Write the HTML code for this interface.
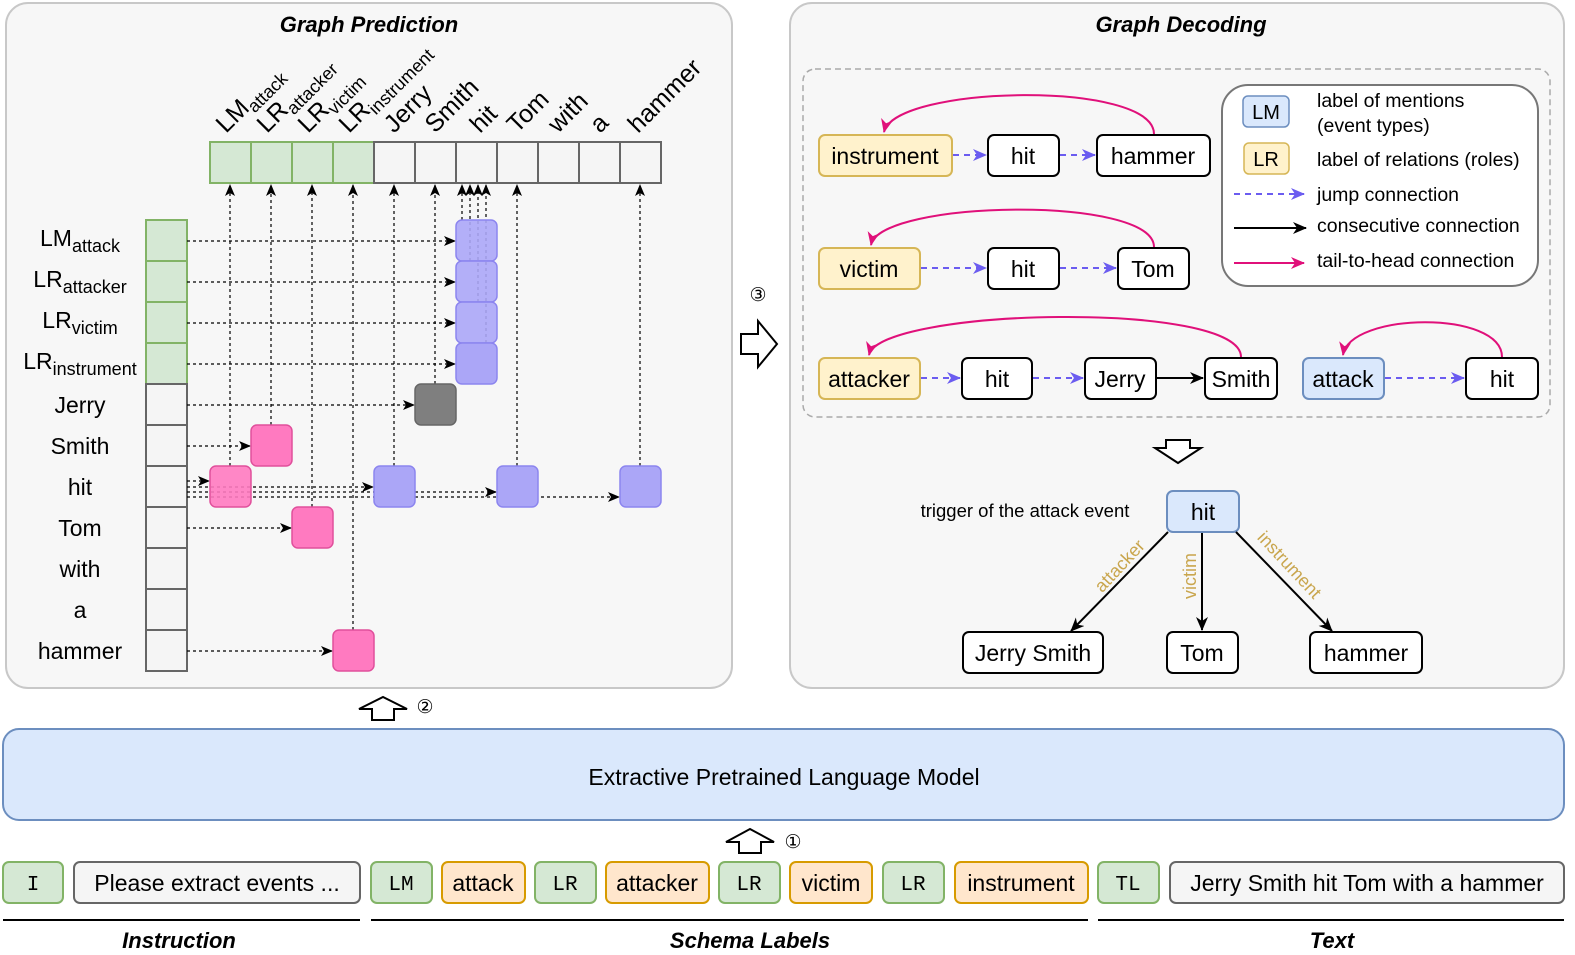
<!DOCTYPE html>
<html><head><meta charset="utf-8"><style>
html,body{margin:0;padding:0;background:#fff;}
svg{display:block;font-family:"Liberation Sans",sans-serif;}
</style></head><body>
<svg width="1575" height="955" viewBox="0 0 1575 955" xmlns="http://www.w3.org/2000/svg">
<defs>
<marker id="ab" markerWidth="12" markerHeight="10" refX="11" refY="5" orient="auto" markerUnits="userSpaceOnUse"><path d="M0,0 L12,5 L0,10 L3,5z" fill="#000"/></marker>
<marker id="ap" markerWidth="14" markerHeight="12" refX="13" refY="6" orient="auto" markerUnits="userSpaceOnUse"><path d="M0,0 L14,6 L0,12 L4,6z" fill="#6b5cf0"/></marker>
<marker id="am" markerWidth="14" markerHeight="12" refX="13" refY="6" orient="auto" markerUnits="userSpaceOnUse"><path d="M0,0 L14,6 L0,12 L4,6z" fill="#e0107a"/></marker>
<marker id="ak" markerWidth="14" markerHeight="12" refX="13" refY="6" orient="auto" markerUnits="userSpaceOnUse"><path d="M0,0 L14,6 L0,12 L4,6z" fill="#000"/></marker>
</defs>

<rect x="6" y="3" width="726" height="685" rx="22" fill="#f7f7f7" stroke="#c8c8c8" stroke-width="2"/>
<rect x="790" y="3" width="774" height="685" rx="22" fill="#f7f7f7" stroke="#c8c8c8" stroke-width="2"/>
<text x="369" y="32" font-size="22" font-weight="bold" font-style="italic" text-anchor="middle">Graph Prediction</text>
<text x="1181" y="32" font-size="22" font-weight="bold" font-style="italic" text-anchor="middle">Graph Decoding</text>

<g stroke-width="2">
<rect x="210" y="142" width="41" height="41" fill="#d5e8d4" stroke="#82b366"/>
<rect x="251" y="142" width="41" height="41" fill="#d5e8d4" stroke="#82b366"/>
<rect x="292" y="142" width="41" height="41" fill="#d5e8d4" stroke="#82b366"/>
<rect x="333" y="142" width="41" height="41" fill="#d5e8d4" stroke="#82b366"/>
<rect x="374" y="142" width="41" height="41" fill="#f5f5f5" stroke="#666"/>
<rect x="415" y="142" width="41" height="41" fill="#f5f5f5" stroke="#666"/>
<rect x="456" y="142" width="41" height="41" fill="#f5f5f5" stroke="#666"/>
<rect x="497" y="142" width="41" height="41" fill="#f5f5f5" stroke="#666"/>
<rect x="538" y="142" width="41" height="41" fill="#f5f5f5" stroke="#666"/>
<rect x="579" y="142" width="41" height="41" fill="#f5f5f5" stroke="#666"/>
<rect x="620" y="142" width="41" height="41" fill="#f5f5f5" stroke="#666"/>
<rect x="146" y="220" width="41" height="41" fill="#d5e8d4" stroke="#82b366"/>
<rect x="146" y="261" width="41" height="41" fill="#d5e8d4" stroke="#82b366"/>
<rect x="146" y="302" width="41" height="41" fill="#d5e8d4" stroke="#82b366"/>
<rect x="146" y="343" width="41" height="41" fill="#d5e8d4" stroke="#82b366"/>
<rect x="146" y="384" width="41" height="41" fill="#f5f5f5" stroke="#666"/>
<rect x="146" y="425" width="41" height="41" fill="#f5f5f5" stroke="#666"/>
<rect x="146" y="466" width="41" height="41" fill="#f5f5f5" stroke="#666"/>
<rect x="146" y="507" width="41" height="41" fill="#f5f5f5" stroke="#666"/>
<rect x="146" y="548" width="41" height="41" fill="#f5f5f5" stroke="#666"/>
<rect x="146" y="589" width="41" height="41" fill="#f5f5f5" stroke="#666"/>
<rect x="146" y="630" width="41" height="41" fill="#f5f5f5" stroke="#666"/>
</g>

<g font-size="25" fill="#000">
<text transform="translate(226,134) rotate(-45)">LM<tspan font-size="18" dy="6">attack</tspan></text>
<text transform="translate(267,134) rotate(-45)">LR<tspan font-size="18" dy="6">attacker</tspan></text>
<text transform="translate(308,134) rotate(-45)">LR<tspan font-size="18" dy="6">victim</tspan></text>
<text transform="translate(349,134) rotate(-45)">LR<tspan font-size="18" dy="6">instrument</tspan></text>
<text transform="translate(394,134) rotate(-45)">Jerry</text>
<text transform="translate(435,134) rotate(-45)">Smith</text>
<text transform="translate(480,134) rotate(-45)">hit</text>
<text transform="translate(517,134) rotate(-45)">Tom</text>
<text transform="translate(558,134) rotate(-45)">with</text>
<text transform="translate(600,134) rotate(-45)">a</text>
<text transform="translate(638,134) rotate(-45)">hammer</text>
</g>
<g font-size="23" text-anchor="middle">
<text x="80" y="246">LM<tspan font-size="18" dy="6">attack</tspan></text>
<text x="80" y="287">LR<tspan font-size="18" dy="6">attacker</tspan></text>
<text x="80" y="328">LR<tspan font-size="18" dy="6">victim</tspan></text>
<text x="80" y="369">LR<tspan font-size="18" dy="6">instrument</tspan></text>
<text x="80" y="413">Jerry</text>
<text x="80" y="454">Smith</text>
<text x="80" y="495">hit</text>
<text x="80" y="536">Tom</text>
<text x="80" y="577">with</text>
<text x="80" y="618">a</text>
<text x="80" y="659">hammer</text>
</g>

<g stroke="#000" stroke-width="1.2" stroke-dasharray="3,3" fill="none" marker-end="url(#ab)">
<line x1="230" y1="466" x2="230" y2="185"/>
<line x1="271" y1="425" x2="271" y2="185"/>
<line x1="312" y1="507" x2="312" y2="185"/>
<line x1="353" y1="630" x2="353" y2="185"/>
<line x1="394" y1="466" x2="394" y2="185"/>
<line x1="435" y1="384" x2="435" y2="185"/>
<line x1="462" y1="220" x2="462" y2="185"/>
<line x1="470" y1="261" x2="470" y2="185"/>
<line x1="478" y1="302" x2="478" y2="185"/>
<line x1="486" y1="343" x2="486" y2="185"/>
<line x1="517" y1="466" x2="517" y2="185"/>
<line x1="640" y1="466" x2="640" y2="185"/>
<line x1="187" y1="241" x2="455" y2="241"/>
<line x1="187" y1="282" x2="455" y2="282"/>
<line x1="187" y1="323" x2="455" y2="323"/>
<line x1="187" y1="364" x2="455" y2="364"/>
<line x1="187" y1="405" x2="414" y2="405"/>
<line x1="187" y1="446" x2="250" y2="446"/>
<line x1="187" y1="481" x2="209" y2="481"/>
<line x1="187" y1="487" x2="373" y2="487"/>
<line x1="187" y1="492" x2="496" y2="492"/>
<line x1="187" y1="497" x2="619" y2="497"/>
<line x1="187" y1="528" x2="291" y2="528"/>
<line x1="187" y1="651" x2="332" y2="651"/>
</g>

<g stroke-width="1.5">
<rect x="456" y="220" width="41" height="41" rx="6" fill="#aba6f7" fill-opacity="0.9" stroke="#8c85ef"/>
<rect x="456" y="261" width="41" height="41" rx="6" fill="#aba6f7" fill-opacity="0.9" stroke="#8c85ef"/>
<rect x="456" y="302" width="41" height="41" rx="6" fill="#aba6f7" fill-opacity="0.9" stroke="#8c85ef"/>
<rect x="456" y="343" width="41" height="41" rx="6" fill="#aba6f7" stroke="#8c85ef"/>
<rect x="415" y="384" width="41" height="41" rx="6" fill="#7f7f7f" stroke="#666"/>
<rect x="251" y="425" width="41" height="41" rx="6" fill="#ff7ac0" stroke="#e0509c"/>
<rect x="210" y="466" width="41" height="41" rx="6" fill="#ff7ac0" fill-opacity="0.9" stroke="#e0509c"/>
<rect x="292" y="507" width="41" height="41" rx="6" fill="#ff7ac0" stroke="#e0509c"/>
<rect x="333" y="630" width="41" height="41" rx="6" fill="#ff7ac0" stroke="#e0509c"/>
<rect x="374" y="466" width="41" height="41" rx="6" fill="#aba6f7" stroke="#8c85ef"/>
<rect x="497" y="466" width="41" height="41" rx="6" fill="#aba6f7" stroke="#8c85ef"/>
<rect x="620" y="466" width="41" height="41" rx="6" fill="#aba6f7" stroke="#8c85ef"/>
</g>

<path d="M741,334 L758,334 L758,321 L777,344 L758,367 L758,354 L741,354 Z" fill="#fff" stroke="#000" stroke-width="2"/>
<text x="758" y="301" font-size="19" text-anchor="middle">③</text>

<rect x="803" y="69" width="747" height="348" rx="12" fill="none" stroke="#aaa" stroke-width="1.5" stroke-dasharray="6,4"/>

<rect x="1222" y="85" width="316" height="201" rx="26" fill="#fff" stroke="#777" stroke-width="2"/>
<rect x="1243" y="96" width="46" height="31" rx="5" fill="#dae8fc" stroke="#6c8ebf" stroke-width="1.5"/>
<text x="1266" y="119" font-size="20" text-anchor="middle">LM</text>
<rect x="1244" y="143" width="45" height="31" rx="5" fill="#fff2cc" stroke="#d6b656" stroke-width="1.5"/>
<text x="1266" y="166" font-size="20" text-anchor="middle">LR</text>
<g font-size="19.5">
<text x="1317" y="107">label of mentions</text>
<text x="1317" y="132">(event types)</text>
<text x="1317" y="166">label of relations (roles)</text>
<text x="1317" y="201">jump connection</text>
<text x="1317" y="232">consecutive connection</text>
<text x="1317" y="267">tail-to-head connection</text>
</g>
<line x1="1234" y1="194" x2="1304" y2="194" stroke="#6b5cf0" stroke-width="2" stroke-dasharray="6,5" marker-end="url(#ap)"/>
<line x1="1234" y1="228" x2="1306" y2="228" stroke="#000" stroke-width="2" marker-end="url(#ak)"/>
<line x1="1234" y1="263" x2="1304" y2="263" stroke="#e0107a" stroke-width="2" marker-end="url(#am)"/>

<g stroke-width="2">
<rect x="819" y="135" width="133" height="41" rx="6" fill="#fff2cc" stroke="#d6b656"/>
<rect x="988" y="135" width="71" height="41" rx="6" fill="#fff" stroke="#000"/>
<rect x="1097" y="135" width="113" height="41" rx="6" fill="#fff" stroke="#000"/>
<rect x="819" y="248" width="101" height="41" rx="6" fill="#fff2cc" stroke="#d6b656"/>
<rect x="988" y="248" width="71" height="41" rx="6" fill="#fff" stroke="#000"/>
<rect x="1118" y="248" width="71" height="41" rx="6" fill="#fff" stroke="#000"/>
<rect x="819" y="358" width="101" height="41" rx="6" fill="#fff2cc" stroke="#d6b656"/>
<rect x="962" y="358" width="70" height="41" rx="6" fill="#fff" stroke="#000"/>
<rect x="1085" y="358" width="71" height="41" rx="6" fill="#fff" stroke="#000"/>
<rect x="1205" y="358" width="72" height="41" rx="6" fill="#fff" stroke="#000"/>
<rect x="1303" y="358" width="81" height="41" rx="6" fill="#dae8fc" stroke="#6c8ebf"/>
<rect x="1466" y="358" width="72" height="41" rx="6" fill="#fff" stroke="#000"/>
</g>
<g font-size="23" text-anchor="middle">
<text x="885" y="164">instrument</text>
<text x="1023" y="164">hit</text>
<text x="1153" y="164">hammer</text>
<text x="869" y="277">victim</text>
<text x="1023" y="277">hit</text>
<text x="1153" y="277">Tom</text>
<text x="869" y="387">attacker</text>
<text x="997" y="387">hit</text>
<text x="1120" y="387">Jerry</text>
<text x="1241" y="387">Smith</text>
<text x="1343" y="387">attack</text>
<text x="1502" y="387">hit</text>
</g>
<g stroke="#6b5cf0" stroke-width="2" stroke-dasharray="6,5" marker-end="url(#ap)">
<line x1="953" y1="155" x2="986" y2="155"/>
<line x1="1060" y1="155" x2="1095" y2="155"/>
<line x1="921" y1="268" x2="986" y2="268"/>
<line x1="1060" y1="268" x2="1116" y2="268"/>
<line x1="921" y1="378" x2="960" y2="378"/>
<line x1="1033" y1="378" x2="1083" y2="378"/>
<line x1="1385" y1="378" x2="1464" y2="378"/>
</g>
<line x1="1157" y1="378" x2="1203" y2="378" stroke="#000" stroke-width="2" marker-end="url(#ak)"/>
<g stroke="#e0107a" stroke-width="2" fill="none" marker-end="url(#am)">
<path d="M1154,134 C1154,80 895,85 884,132"/>
<path d="M1154,247 C1154,195 880,200 871,245"/>
<path d="M1241,357 C1241,300 880,308 869,355"/>
<path d="M1502,357 C1502,310 1350,312 1343,355"/>
</g>

<path d="M1166,440 L1190,440 L1190,448 L1201,448 L1178,463 L1155,448 L1166,448 Z" fill="#fff" stroke="#000" stroke-width="2"/>

<rect x="1167" y="491" width="72" height="41" rx="6" fill="#dae8fc" stroke="#6c8ebf" stroke-width="2"/>
<text x="1203" y="520" font-size="23" text-anchor="middle">hit</text>
<text x="1025" y="517" font-size="18.5" text-anchor="middle">trigger of the attack event</text>
<g stroke-width="2">
<rect x="963" y="632" width="140" height="41" rx="6" fill="#fff" stroke="#000"/>
<rect x="1167" y="632" width="71" height="41" rx="6" fill="#fff" stroke="#000"/>
<rect x="1310" y="632" width="112" height="41" rx="6" fill="#fff" stroke="#000"/>
</g>
<g font-size="23" text-anchor="middle">
<text x="1033" y="661">Jerry Smith</text>
<text x="1202" y="661">Tom</text>
<text x="1366" y="661">hammer</text>
</g>
<g stroke="#000" stroke-width="2" marker-end="url(#ak)">
<line x1="1168" y1="532" x2="1071" y2="631"/>
<line x1="1202" y1="533" x2="1202" y2="630"/>
<line x1="1236" y1="532" x2="1332" y2="631"/>
</g>
<g font-size="18" fill="#c9a64e" text-anchor="middle">
<text transform="translate(1124,570) rotate(-47)">attacker</text>
<text transform="translate(1196,576) rotate(-90)">victim</text>
<text transform="translate(1285,569) rotate(47)">instrument</text>
</g>

<path d="M372,720 L372,709 L359,709 L383,697 L407,709 L394,709 L394,720 Z" fill="#fff" stroke="#000" stroke-width="2"/>
<text x="425" y="713" font-size="19" text-anchor="middle">②</text>

<rect x="3" y="729" width="1561" height="91" rx="16" fill="#dae8fc" stroke="#6c8ebf" stroke-width="2"/>
<text x="784" y="785" font-size="23" text-anchor="middle">Extractive Pretrained Language Model</text>

<path d="M739,853 L739,842 L726,842 L750,829 L774,842 L761,842 L761,853 Z" fill="#fff" stroke="#000" stroke-width="2"/>
<text x="793" y="848" font-size="19" text-anchor="middle">①</text>

<g stroke-width="2">
<rect x="3" y="862" width="60" height="41" rx="6" fill="#d5e8d4" stroke="#82b366"/>
<rect x="74" y="862" width="286" height="41" rx="6" fill="#f5f5f5" stroke="#666"/>
<rect x="371" y="862" width="61" height="41" rx="6" fill="#d5e8d4" stroke="#82b366"/>
<rect x="442" y="862" width="83" height="41" rx="6" fill="#ffe6cc" stroke="#d79b00"/>
<rect x="535" y="862" width="61" height="41" rx="6" fill="#d5e8d4" stroke="#82b366"/>
<rect x="606" y="862" width="103" height="41" rx="6" fill="#ffe6cc" stroke="#d79b00"/>
<rect x="719" y="862" width="61" height="41" rx="6" fill="#d5e8d4" stroke="#82b366"/>
<rect x="790" y="862" width="82" height="41" rx="6" fill="#ffe6cc" stroke="#d79b00"/>
<rect x="883" y="862" width="61" height="41" rx="6" fill="#d5e8d4" stroke="#82b366"/>
<rect x="955" y="862" width="133" height="41" rx="6" fill="#ffe6cc" stroke="#d79b00"/>
<rect x="1098" y="862" width="61" height="41" rx="6" fill="#d5e8d4" stroke="#82b366"/>
<rect x="1170" y="862" width="394" height="41" rx="6" fill="#f5f5f5" stroke="#666"/>
</g>
<g font-size="21" text-anchor="middle" font-family="Liberation Mono, monospace">
<text x="33" y="890">I</text>
<text x="401" y="890">LM</text>
<text x="565" y="890">LR</text>
<text x="749" y="890">LR</text>
<text x="913" y="890">LR</text>
<text x="1128" y="890">TL</text>
</g>
<g font-size="23" text-anchor="middle">
<text x="217" y="891">Please extract events ...</text>
<text x="483" y="891">attack</text>
<text x="657" y="891">attacker</text>
<text x="831" y="891">victim</text>
<text x="1021" y="891">instrument</text>
<text x="1367" y="891">Jerry Smith hit Tom with a hammer</text>
</g>
<g stroke="#000" stroke-width="2">
<line x1="3" y1="920" x2="360" y2="920"/>
<line x1="371" y1="920" x2="1088" y2="920"/>
<line x1="1098" y1="920" x2="1564" y2="920"/>
</g>
<g font-size="22" font-weight="bold" font-style="italic" text-anchor="middle">
<text x="179" y="948">Instruction</text>
<text x="750" y="948">Schema Labels</text>
<text x="1332" y="948">Text</text>
</g>
</svg>
</body></html>
